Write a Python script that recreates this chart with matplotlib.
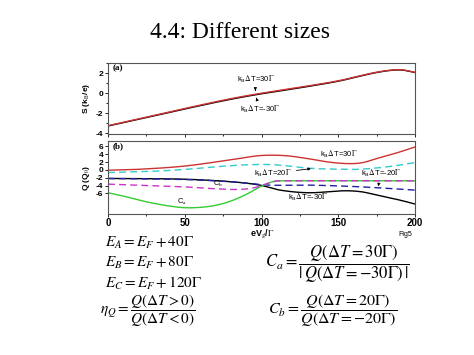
import matplotlib
matplotlib.use("Agg")
import matplotlib.pyplot as plt
import numpy as np
from matplotlib.ticker import MultipleLocator

plt.rcParams['mathtext.fontset'] = 'stix'
plt.rcParams['font.family'] = ['Liberation Sans', 'DejaVu Sans']

# ---- data (panel a: thermopower S) ----
s_x = [0, 25, 50, 75, 96, 125, 150, 175, 190, 200]
s_pos30 = [-3.27, -2.42, -1.55, -0.72, -0.12, 0.58, 1.22, 2.08, 2.33, 2.07]
s_neg30 = [-3.30, -2.46, -1.60, -0.78, -0.18, 0.52, 1.18, 2.05, 2.31, 2.05]

# ---- data (panel b: heat current Q) ----
red_x = [0, 17, 49, 81, 99, 115, 130, 143, 155, 165, 175, 188, 200]
red_y = [-0.08, 0.09, 0.94, 2.64, 3.66, 3.66, 2.9, 2.05, 1.62, 1.79, 2.9, 4.34, 5.87]

cyan_x = [0, 25, 49, 75, 95, 110, 131, 150, 165, 185, 200]
cyan_y = [-0.68, -0.42, 0.09, 0.94, 1.37, 1.28, 0.43, 0.18, 0.18, 0.94, 1.88]

navy_x = [0, 49, 81, 105, 131, 164, 200]
navy_y = [-2.2, -2.46, -3.06, -3.9, -3.9, -4.33, -5.18]

black_x = [0, 49, 81, 99, 112, 131, 153, 165, 175, 190, 200]
black_y = [-2.2, -2.38, -3.06, -3.9, -5.18, -5.86, -5.35, -5.6, -6.46, -7.73, -8.75]

cb_x = [0, 25, 49, 70, 85, 95, 102, 108, 115, 200]
cb_y = [-3.65, -3.99, -4.33, -4.84, -5.01, -4.59, -3.74, -2.97, -2.8, -2.8]

ca_x = [0, 10, 20, 30, 40, 50, 60, 70, 80, 90, 100, 108, 115, 200]
ca_y = [-5.86, -6.71, -7.73, -8.58, -9.26, -9.69, -9.6, -9.09, -7.99, -6.29, -4.16, -2.97, -2.8, -2.8]

x_ticks = [0, 50, 100, 150, 200]
ya_ticks = [-4, -2, 0, 2]
yb_ticks = [-6, -4, -2, 0, 2, 4, 6]


def smooth(x, y, n=300):
    x = np.asarray(x, float); y = np.asarray(y, float)
    xs = np.linspace(x[0], x[-1], n)
    m = np.zeros_like(y)
    m[1:-1] = (y[2:] - y[:-2]) / (x[2:] - x[:-2])
    m[0] = (y[1] - y[0]) / (x[1] - x[0])
    m[-1] = (y[-1] - y[-2]) / (x[-1] - x[-2])
    idx = np.clip(np.searchsorted(x, xs) - 1, 0, len(x) - 2)
    h = x[idx + 1] - x[idx]
    t = (xs - x[idx]) / h
    h00 = 2 * t**3 - 3 * t**2 + 1
    h10 = t**3 - 2 * t**2 + t
    h01 = -2 * t**3 + 3 * t**2
    h11 = t**3 - t**2
    ys = h00 * y[idx] + h10 * h * m[idx] + h01 * y[idx + 1] + h11 * h * m[idx + 1]
    return xs, ys


fig = plt.figure(figsize=(4.74, 3.55), dpi=100)
fig.patch.set_facecolor('white')

W, H = 474, 355
def rect(l, t, r, b):
    return [l / W, 1 - b / H, (r - l) / W, (b - t) / H]

axa = fig.add_axes(rect(108, 63, 415, 134))
axb = fig.add_axes(rect(108, 141, 415, 214))

RED = '#cc3333'
tickfont = dict(fontsize=6, fontweight='bold')

# panel a
axa.plot(*smooth(s_x, s_neg30), color='black', lw=1.0)
axa.plot(*smooth(s_x, s_pos30), color=RED, lw=1.0)
axa.set_xlim(0, 200)
axa.set_ylim(-4.1, 3.0)
axa.set_xticks(x_ticks)
axa.set_xticklabels([])
axa.xaxis.set_minor_locator(MultipleLocator(25))
axa.set_yticks(ya_ticks)
axa.yaxis.set_minor_locator(MultipleLocator(1))
axa.set_yticklabels([str(v) for v in ya_ticks], **tickfont)
axa.text(3, 2.85, '(a)', fontsize=6.5, fontweight='bold', family='Liberation Serif', va='top')
akw = dict(arrowstyle='-|>', color='black', lw=0.6, mutation_scale=4)
axa.annotate(r'k$_{\rm B}$$\Delta$T=30$\Gamma$', xy=(96, -0.05), xytext=(96, 1.4),
             ha='center', va='center', fontsize=5.5, arrowprops=akw)
axa.annotate(r'k$_{\rm B}$$\Delta$T=-30$\Gamma$', xy=(96, -0.2), xytext=(99, -1.6),
             ha='center', va='center', fontsize=5.5, arrowprops=akw)

# panel b
axb.plot(*smooth(red_x, red_y), color=RED, lw=1.0)
axb.plot(*smooth(cyan_x, cyan_y), color='#33cccc', lw=1.0, ls=(0, (5, 3)))
axb.plot(*smooth(black_x, black_y), color='black', lw=1.0)
axb.plot(*smooth(navy_x, navy_y), color='#1f1fa6', lw=1.0, ls=(0, (5, 3)))
axb.plot(*smooth(ca_x, ca_y), color='#33cc33', lw=1.0)
axb.plot(*smooth(cb_x, cb_y), color='#cc33cc', lw=1.0, ls=(0, (5, 3)))
axb.set_xlim(0, 200)
axb.set_ylim(-11.3, 7.4)
axb.set_xticks(x_ticks)
axb.set_xticklabels([str(v) for v in x_ticks], fontsize=7, fontweight='bold')
axb.xaxis.set_minor_locator(MultipleLocator(25))
axb.set_yticks(yb_ticks)
axb.set_yticklabels([str(v) for v in yb_ticks], **tickfont)
axb.text(3, 7.1, '(b)', fontsize=6.5, fontweight='bold', family='Liberation Serif', va='top')
axb.text(150, 4.0, r'k$_{\rm B}$$\Delta$T=30$\Gamma$', ha='center', va='center', fontsize=5.5)
axb.annotate(r'k$_{\rm B}$$\Delta$T=20$\Gamma$', xy=(134, 0.4), xytext=(107, -0.9),
             ha='center', va='center', fontsize=5.5, arrowprops=akw)
axb.annotate(r'k$_{\rm B}$$\Delta$T=-20$\Gamma$', xy=(176, -4.2), xytext=(178, -0.9),
             ha='center', va='center', fontsize=5.5, arrowprops=akw)
axb.text(130, -7.05, r'k$_{\rm B}$$\Delta$T=-30$\Gamma$', ha='center', va='center', fontsize=5.5)
axb.text(72, -3.5, r'C$_{\rm b}$', ha='center', va='center', fontsize=5.5)
axb.text(48, -8.2, r'C$_{\rm a}$', ha='center', va='center', fontsize=5.5)

for ax in (axa, axb):
    for sp in ax.spines.values():
        sp.set_linewidth(0.8)
        sp.set_color('#555555')
    ax.tick_params(which='both', direction='out', width=0.6, length=2.5, pad=1.0)
    ax.tick_params(which='minor', length=1.5)
axb.tick_params(axis='x', pad=0.5)

fig.text(86 / W, 1 - 98 / H, r'S (k$_{\rm B}$/e)', rotation=90, ha='center', va='center',
         fontsize=6, fontweight='bold')
fig.text(86 / W, 1 - 178 / H, r'Q (Q$_{\rm 0}$)', rotation=90, ha='center', va='center',
         fontsize=6, fontweight='bold')
fig.text(262 / W, 1 - 234 / H, r'eV$_{\rm g}$/$\Gamma$', ha='center', va='center',
         fontsize=6.5, fontweight='bold')
fig.text(405 / W, 1 - 234 / H, 'Fig5', ha='center', va='center', fontsize=5)

fig.text(240 / W, 1 - 33 / H, '4.4: Different sizes', ha='center', va='center',
         fontsize=17, family='Liberation Serif')

eq = dict(fontsize=11, ha='left', va='center')
fig.text(105 / W, 1 - 243 / H, r'$E_A = E_F + 40\Gamma$', **eq)
fig.text(105 / W, 1 - 263 / H, r'$E_B = E_F + 80\Gamma$', **eq)
fig.text(105 / W, 1 - 283 / H, r'$E_C = E_F + 120\Gamma$', **eq)
fig.text(100 / W, 1 - 311 / H, r'$\eta_Q = \dfrac{Q(\Delta T > 0)}{Q(\Delta T < 0)}$', **eq)
fig.text(265 / W, 1 - 264 / H, r'$C_a = \dfrac{Q(\Delta T = 30\Gamma)}{|\,Q(\Delta T = -30\Gamma)\,|}$',
         fontsize=12, ha='left', va='center')
fig.text(268 / W, 1 - 311 / H, r'$C_b = \dfrac{Q(\Delta T = 20\Gamma)}{Q(\Delta T = -20\Gamma)}$',
         fontsize=11.5, ha='left', va='center')

fig.savefig('out.png', dpi=100)
